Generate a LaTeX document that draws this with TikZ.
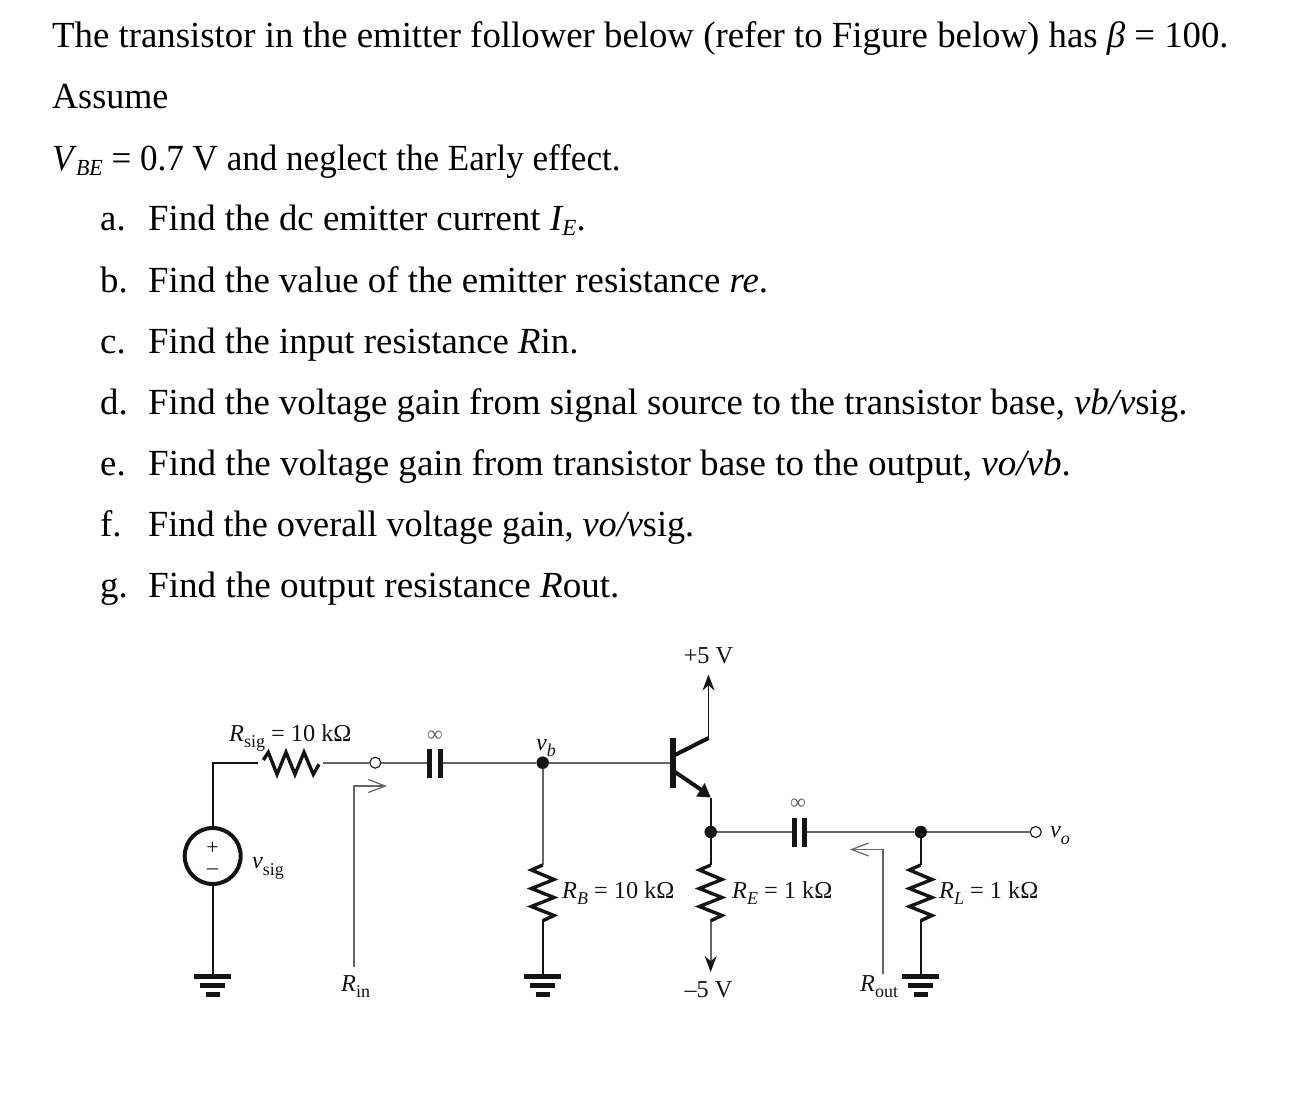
\documentclass[tikz,border=0pt]{standalone}
\usepackage{fontspec}
\setmainfont{Liberation Serif}
\usetikzlibrary{arrows.meta}
\definecolor{wiregray}{gray}{0.40}
\definecolor{inkk}{gray}{0.08}
\newcommand{\bodyfont}{\fontsize{36.8}{40}\selectfont}
\newcommand{\figfont}{\fontsize{24.3}{26}\selectfont}
\newcommand{\figsub}[1]{\raisebox{-0.28em}{\fontsize{18}{20}\selectfont #1}}
\newcommand{\bodysub}[1]{\kern-1pt\raisebox{-0.12em}{\fontsize{23}{25}\selectfont\itshape #1}}
\tikzset{
  x=1pt,y=-1pt,
  bodyline/.style={anchor=base west,inner sep=0pt,font=\bodyfont,text=black},
  figlabel/.style={inner sep=0pt,font=\figfont,text=inkk},
  signlabel/.style={inner sep=0pt,font=\fontsize{22}{22}\selectfont,text=inkk},
  inflabel/.style={inner sep=0pt,font=\fontsize{22}{24}\selectfont,text=wiregray},
  wire/.style={draw=wiregray,line width=1.9pt},
  darkwire/.style={draw=inkk,line width=1.7pt},
  resist/.style={draw=inkk,line width=3.4pt,line join=miter,miter limit=4},
  plate/.style={draw=inkk,line width=5pt},
  dotnode/.style={circle,fill=inkk,draw=none,minimum size=12.5pt,inner sep=0pt},
  opennode/.style={circle,fill=white,draw=inkk,line width=1.1pt,minimum size=11pt,inner sep=0pt},
  srcnode/.style={circle,fill=white,draw=inkk,line width=4pt,minimum size=56pt,inner sep=0pt},
  bjtwire/.style={draw=inkk,line width=4pt},
  tipfill/.style={-{Stealth[length=16pt,width=12pt,color=inkk]}},
  tipopen/.style={-{Straight Barb[length=17pt,width=13pt,line width=1.2pt]}},
}
% vertical resistor, 55 units long, from a named coordinate
\newcommand{\vres}[1]{\draw[resist] (#1) -- ++(-11.3,5) -- ++(22.6,9.5) -- ++(-22.6,9) -- ++(22.6,9) -- ++(-22.6,9) -- ++(22.6,9) -- ++(-11.3,5.2);}
% ground symbol below a named coordinate
\newcommand{\gnd}[1]{%
  \draw[draw=inkk,line width=5pt] ([xshift=-18.5pt]#1) -- ([xshift=18.5pt]#1);
  \draw[draw=inkk,line width=5pt] ([xshift=-12.5pt,yshift=-9pt]#1) -- ([xshift=12.5pt,yshift=-9pt]#1);
  \draw[draw=inkk,line width=5pt] ([xshift=-7pt,yshift=-18.5pt]#1) -- ([xshift=7pt,yshift=-18.5pt]#1);}
\begin{document}
\begin{tikzpicture}
\useasboundingbox (0,0) rectangle (1304,1118);
\fill[white] (0,0) rectangle (1304,1118);
% ---- question text
\node[bodyline] (t1) at (52,48) {The transistor in the emitter follower below (refer to Figure below) has \textit{β} = 100.};
\node[bodyline] (t2) at (52,109) {\scalebox{.98}[1]{Assume}};
\node[bodyline] (t3) at (52,171) {\scalebox{.953}[1]{\textit{V}\bodysub{BE} = 0.7 V and neglect the Early effect.}};
\node[bodyline] (qa) at (100,231) {a.};
\node[bodyline] (ta) at (148,231) {Find the dc emitter current \textit{I}\bodysub{E}.};
\node[bodyline] (qb) at (100,292) {b.};
\node[bodyline] (tb) at (148,292) {Find the value of the emitter resistance \textit{re}.};
\node[bodyline] (qc) at (100,353) {c.};
\node[bodyline] (tc) at (148,353) {Find the input resistance \textit{R}in.};
\node[bodyline] (qd) at (100,414) {d.};
\node[bodyline] (td) at (148,414) {Find the voltage gain from signal source to the transistor base, \textit{vb/v}sig.};
\node[bodyline] (qe) at (100,475) {e.};
\node[bodyline] (te) at (148,475) {\scalebox{1.0076}[1]{Find the voltage gain from transistor base to the output, \textit{vo/vb}.}};
\node[bodyline] (qf) at (100,536) {f.};
\node[bodyline] (tf) at (148,536) {\scalebox{.984}[1]{Find the overall voltage gain, \textit{vo/v}sig.}};
\node[bodyline] (qg) at (100,597) {g.};
\node[bodyline] (tg) at (148,597) {\scalebox{1.009}[1]{Find the output resistance \textit{R}out.}};
% ---- circuit coordinates
\coordinate (srcTop) at (212.7,762.7);
\coordinate (srcGnd) at (212.7,976);
\coordinate (rsigL) at (258,762.7);
\coordinate (rsigR) at (323,762.7);
\coordinate (c1L) at (429.5,762.7);
\coordinate (c1R) at (440,762.7);
\coordinate (baseP) at (672.5,762.7);
\coordinate (rbT) at (542.7,865);
\coordinate (rbB) at (542.7,920);
\coordinate (rbGnd) at (542.7,976);
\coordinate (colStart) at (675,755);
\coordinate (colEnd) at (708.5,738);
\coordinate (vcc) at (708.5,674.5);
\coordinate (emStart) at (675,772);
\coordinate (emEnd) at (703,791);
\coordinate (emTip) at (710.7,797.5);
\coordinate (reT) at (710.7,865);
\coordinate (reB) at (710.7,920);
\coordinate (vee) at (710.7,972);
\coordinate (c2L) at (794,832);
\coordinate (c2R) at (804,832);
\coordinate (rlT) at (920.7,865);
\coordinate (rlB) at (920.7,920);
\coordinate (rlGnd) at (920.7,976);
\coordinate (rinS) at (353.7,967);
\coordinate (rinC) at (353.7,786);
\coordinate (rinE) at (387,786);
\coordinate (routS) at (883,974);
\coordinate (routC) at (883,849.5);
\coordinate (routE) at (850,849.5);
% junction nodes
\node[srcnode] (src) at (212.7,856) {};
\node[opennode] (inT) at (375.3,762.7) {};
\node[dotnode] (vbN) at (542.7,762.7) {};
\node[dotnode] (emN) at (710.7,832) {};
\node[dotnode] (outN) at (920.7,832) {};
\node[opennode] (voN) at (1035.7,832) {};
% wires
\draw[darkwire] (src) -- (srcTop) -- (rsigL);
\draw[darkwire] (src) -- (srcGnd);
\draw[wire] (rsigR) -- (inT);
\draw[wire] (inT) -- (c1L);
\draw[wire] (c1R) -- (vbN);
\draw[wire] (vbN) -- (baseP);
\draw[wire] (vbN) -- (rbT);
\draw[darkwire] (rbB) -- (rbGnd);
\draw[darkwire,tipfill] (colEnd) -- (vcc);
\draw[bjtwire] (colStart) -- (colEnd);
\draw[bjtwire] (emStart) -- (emEnd);
\fill[inkk] (emTip) -- ++(-14.5,-1) -- ++(8.5,-13.5) -- cycle;
\draw[darkwire] (emTip) -- (emN);
\draw[darkwire] (emN) -- (reT);
\draw[wire,tipfill] (reB) -- (vee);
\draw[wire] (emN) -- (c2L);
\draw[wire] (c2R) -- (outN);
\draw[wire] (outN) -- (voN);
\draw[darkwire] (outN) -- (rlT);
\draw[darkwire] (rlB) -- (rlGnd);
\draw[wire,tipopen] (rinS) -- (rinC) -- (rinE);
\draw[wire,tipopen] (routS) -- (routC) -- (routE);
% transistor base bar
\draw[draw=inkk,line width=6pt] (672.7,738) -- (672.7,788);
% capacitors
\draw[plate] (429.5,749) -- (429.5,778);
\draw[plate] (440,749) -- (440,778);
\draw[plate] (794,817.5) -- (794,847);
\draw[plate] (804,817.5) -- (804,847);
% resistors
\draw[resist] (263.3,760) -- (268.3,752.3) -- (277,774.3) -- (286,752.3) -- (295,774.3) -- (304,752.3) -- (313.3,774.3) -- (319,764.3);
\vres{rbT}
\vres{reT}
\vres{rlT}
% grounds
\gnd{srcGnd}
\gnd{rbGnd}
\gnd{rlGnd}
% source polarity
\node[signlabel] (plus) at (212.5,848.5) {+};
\node[signlabel] (minus) at (212.5,871.5) {–};
% labels
\node[figlabel,anchor=base west] (lRsig) at (229,741) {\textit{R}\figsub{sig} = 10 kΩ};
\node[figlabel,anchor=base west] (lVsig) at (252,868.5) {\textit{v}\figsub{sig}};
\node[inflabel] (lInf1) at (435,736) {∞};
\node[figlabel,anchor=base west] (lVb) at (536,750) {\textit{v}\figsub{\itshape b}};
\node[figlabel,anchor=base] (lP5) at (708.5,663) {+5 V};
\node[inflabel] (lInf2) at (798,804) {∞};
\node[figlabel,anchor=base west] (lRb) at (562,898) {\textit{R}\figsub{\itshape B} = 10 kΩ};
\node[figlabel,anchor=base west] (lRe) at (732,898) {\textit{R}\figsub{\itshape E} = 1 kΩ};
\node[figlabel,anchor=base west] (lRl) at (939,898) {\textit{R}\figsub{\itshape L} = 1 kΩ};
\node[figlabel,anchor=base west] (lRin) at (341,991) {\textit{R}\figsub{in}};
\node[figlabel,anchor=base] (lM5) at (708.5,997) {–5 V};
\node[figlabel,anchor=base west] (lRout) at (860,991) {\textit{R}\figsub{out}};
\node[figlabel,anchor=base west] (lVo) at (1050,837.5) {\textit{v}\figsub{\itshape o}};
\end{tikzpicture}
\end{document}
